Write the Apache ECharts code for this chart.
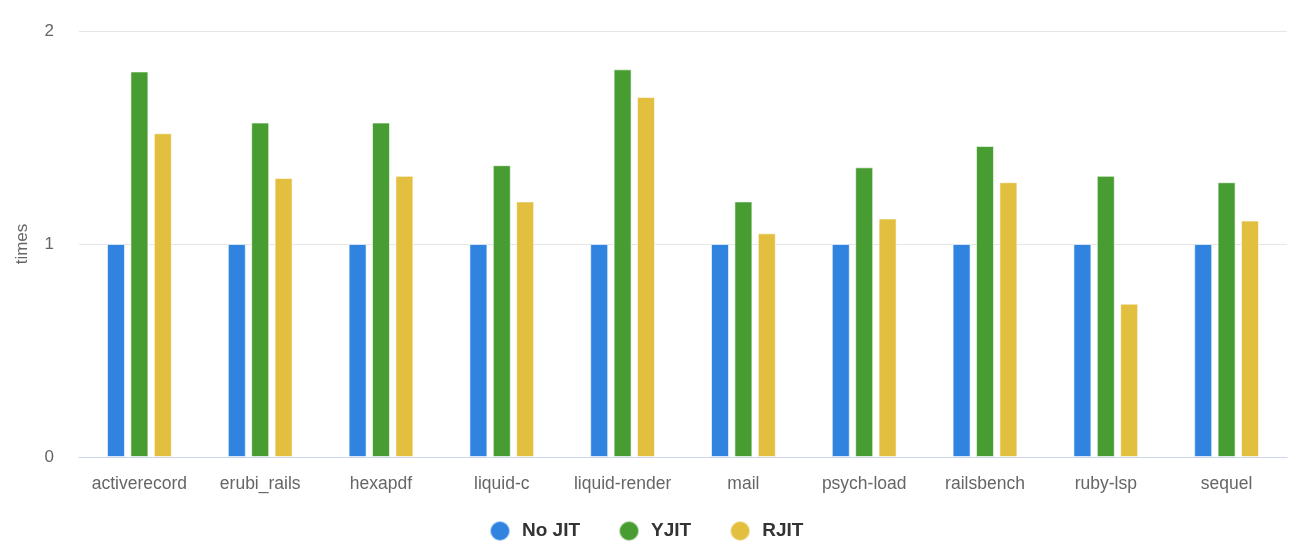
<!DOCTYPE html>
<html>
<head>
<meta charset="utf-8">
<script src="https://cdn.jsdelivr.net/npm/echarts@6/dist/echarts.min.js"></script>
<style>
  html, body { margin: 0; padding: 0; background: #fff; }
  #chart { width: 1300px; height: 555px; }
</style>
</head>
<body>
<div id="chart"></div>
<script>
// benchmark names
const categories = ['activerecord', 'erubi_rails', 'hexapdf', 'liquid-c', 'liquid-render', 'mail', 'psych-load', 'railsbench', 'ruby-lsp', 'sequel']
// speedup relative to no JIT
const noJit = [1, 1, 1, 1, 1, 1, 1, 1, 1, 1]
const yjit = [1.81, 1.57, 1.57, 1.37, 1.82, 1.20, 1.36, 1.46, 1.32, 1.29]
const rjit = [1.52, 1.31, 1.32, 1.20, 1.69, 1.05, 1.12, 1.29, 0.72, 1.11]

const chart = echarts.init(document.getElementById('chart'))

const bar = (name, data, color) => ({
  name,
  type: 'bar',
  data,
  barWidth: 18,
  barGap: '30%',
  itemStyle: {color, borderColor: 'rgba(255,255,255,0.6)', borderWidth: 1},
})

chart.setOption({
  animation: false,
  textStyle: {fontFamily: '"Liberation Sans", Arial, sans-serif'},
  grid: {left: 79, right: 13, top: 31, bottom: 98},
  legend: {
    left: 484,
    bottom: 8,
    icon: 'circle',
    itemWidth: 34,
    itemHeight: 20,
    itemGap: 38,
    textStyle: {fontSize: 19, fontWeight: 'bold', color: '#333'},
  },
  xAxis: {
    type: 'category',
    data: categories,
    axisTick: {show: false},
    axisLine: {lineStyle: {color: '#ccd6eb'}},
    axisLabel: {interval: 0, fontSize: 17.5, color: '#666', margin: 18},
  },
  yAxis: {
    type: 'value',
    min: 0,
    max: 2,
    interval: 1,
    name: 'times',
    nameLocation: 'middle',
    nameGap: 48,
    nameTextStyle: {fontSize: 17, color: '#666'},
    axisLabel: {fontSize: 17, color: '#666', margin: 25, padding: [5, 0, 0, 0]},
    splitLine: {lineStyle: {color: '#e6e6e6'}},
  },
  series: [
    bar('No JIT', noJit, '#3084e0'),
    bar('YJIT', yjit, '#489d32'),
    bar('RJIT', rjit, '#e2bf3e'),
  ],
})
</script>
</body>
</html>
